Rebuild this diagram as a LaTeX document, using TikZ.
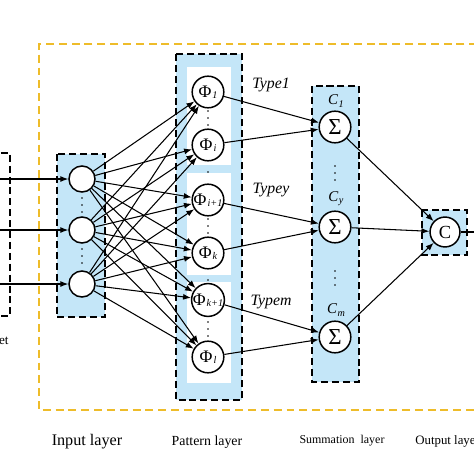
\documentclass[tikz,border=0pt]{standalone}
\usepackage{fontspec}
\setmainfont{Liberation Serif}
\usetikzlibrary{arrows.meta}
\definecolor{lblue}{RGB}{196,230,248}
\definecolor{ydash}{RGB}{238,188,42}
\newcommand{\phin}[1]{{\fontsize{10}{10}\selectfont Φ}\kern0.6pt\raisebox{-0.6pt}{\fontsize{5.8}{5.8}\selectfont\itshape #1}}
\newcommand{\cn}[1]{{\fontsize{8.5}{8.5}\selectfont\itshape C}\kern0.3pt\raisebox{-1.2pt}{\fontsize{5.8}{5.8}\selectfont\itshape #1}}
\begin{document}
\begin{tikzpicture}[x=0.02cm,y=-0.02cm,
  neuron/.style={circle,draw,line width=0.85pt,fill=white,inner sep=0pt},
  inneuron/.style={neuron,minimum size=14.8pt},
  patneuron/.style={neuron,minimum size=18pt},
  layerbox/.style={draw,fill=lblue,line width=0.9pt,dash pattern=on 4pt off 2.2pt},
  boxline/.style={draw,line width=0.9pt,dash pattern=on 4pt off 2.2pt},
  subbox/.style={fill=white},
  conn/.style={line width=0.6pt,-{Latex[length=4.5pt,width=3.4pt]}},
  plain/.style={line width=0.6pt},
  typelabel/.style={font=\fontsize{9}{9}\selectfont\itshape},
  dot/.style={fill=black}]
\useasboundingbox (0,0) rectangle (474,474);
\clip (0,0) rectangle (474,474);
\fill[white] (0,0) rectangle (474,474);
% outer yellow frame
\draw[ydash,line width=1pt,dash pattern=on 4.5pt off 2.8pt] (490,44) -- (39,44) -- (39,410) -- (490,410);
% dataset box (cut off)
\draw[boxline] (-10,153) -- (10,153) -- (10,316) -- (-10,316);
\node[anchor=east,inner sep=0pt,font=\fontsize{7.5}{7.5}\selectfont] (ds) at (9,341) {et};
% layer boxes
\draw[layerbox] (57,154) rectangle (105,317);
\draw[layerbox] (176,54) rectangle (242,400);
\fill[subbox] (187,67) rectangle (231,165);
\fill[subbox] (187,173) rectangle (231,275);
\fill[subbox] (187,282) rectangle (231,383);
\draw[layerbox] (312,86) rectangle (359,382);
\draw[layerbox] (422,210) rectangle (467,255);
% input nodes
\node[inneuron] (i1) at (82,179) {};
\node[inneuron] (i2) at (82,230) {};
\node[inneuron] (i3) at (82,284) {};
% pattern nodes
\node[patneuron] (p1) at (208,92) {\phin{1}};
\node[patneuron] (p2) at (208,145) {\phin{i}};
\node[patneuron] (p3) at (208,200) {\phin{i+1}};
\node[patneuron] (p4) at (208,253) {\phin{k}};
\node[patneuron] (p5) at (208,300) {\phin{k+1}};
\node[patneuron] (p6) at (208,357) {\phin{l}};
% summation nodes
\node[patneuron,font=\fontsize{13}{13}\selectfont] (s1) at (335,127) {Σ};
\node[patneuron,font=\fontsize{13}{13}\selectfont] (s2) at (335,227) {Σ};
\node[patneuron,font=\fontsize{13}{13}\selectfont] (s3) at (335,337) {Σ};
% output node
\node[neuron,minimum size=17pt,font=\fontsize{10.5}{10.5}\selectfont] (c) at (445,232) {C};
% labels
\node[typelabel] (t1) at (271,85) {Type1};
\node[typelabel] (t2) at (271,190) {Typey};
\node[typelabel] (t3) at (271,302) {Typem};
\node (c1) at (336,101) {\cn{1}};
\node (cy) at (336,199) {\cn{y}};
\node (cm) at (336,310) {\cn{m}};
% dots
\foreach \yy in {198,205,212,249,256,263} \fill[dot] (82,\yy) circle (0.8);
\foreach \yy in {111,118,125,172,219,226,233,280,322,329,336} \fill[dot] (208,\yy) circle (0.8);
\foreach \yy in {166,173,180,271,278,285} \fill[dot] (335,\yy) circle (0.8);
% connectors
\coordinate (l1) at (0,179);
\coordinate (l2) at (0,230);
\coordinate (l3) at (0,284);
\coordinate (r) at (474,232);
\foreach \a in {1,2,3} \draw[conn] (l\a) -- (i\a);
\foreach \a in {1,2,3} \foreach \b in {1,...,6} \draw[conn] (i\a) -- (p\b);
\draw[conn] (p1) -- (s1);
\draw[conn] (p2) -- (s1);
\draw[conn] (p3) -- (s2);
\draw[conn] (p4) -- (s2);
\draw[conn] (p5) -- (s3);
\draw[conn] (p6) -- (s3);
\draw[conn] (s1) -- (c);
\draw[conn] (s2) -- (c);
\draw[conn] (s3) -- (c);
\draw[plain] (c) -- (r);
% bottom labels
\node[font=\fontsize{9.2}{9.2}\selectfont] (li) at (87,442) {Input layer};
\node[font=\fontsize{7.9}{7.9}\selectfont] (lp) at (207,442) {Pattern layer};
\node[font=\fontsize{6.8}{6.8}\selectfont] (ls) at (342,441) {Summation\ \ layer};
\node[anchor=west,inner sep=0pt,font=\fontsize{7.3}{7.3}\selectfont] (lo) at (415,441) {Output layer};
\end{tikzpicture}
\end{document}
